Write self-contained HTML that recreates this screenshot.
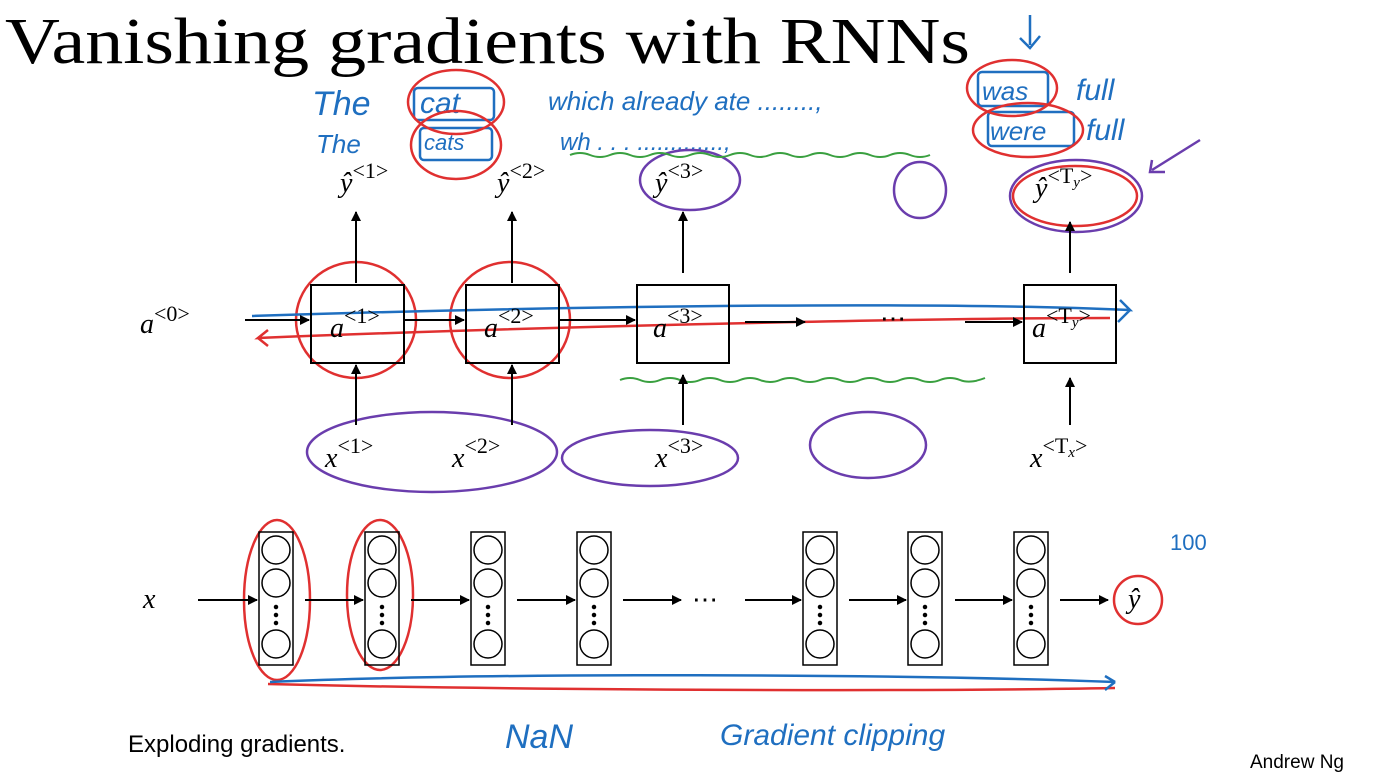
<!DOCTYPE html>
<html><head><meta charset="utf-8"><style>
html,body{margin:0;padding:0;background:#fff;width:1387px;height:779px;overflow:hidden}
svg{display:block}
.m{font-family:"Liberation Serif",serif;font-style:italic;font-size:28px;fill:#000}
.s{font-family:"Liberation Serif",serif;font-style:normal;font-size:22px}
.hw{font-family:"Liberation Sans",sans-serif;font-style:italic;fill:#1f6fc0;font-size:30px}
</style></head><body>
<svg width="1387" height="779" viewBox="0 0 1387 779">
<defs><marker id="ar" markerWidth="10" markerHeight="10" refX="9" refY="5" orient="auto" markerUnits="userSpaceOnUse"><path d="M0,0 L10,5 L0,10z" fill="#000"/></marker></defs>
<text x="5" y="63" font-family="Liberation Serif,serif" font-size="66" textLength="965" lengthAdjust="spacingAndGlyphs">Vanishing gradients with RNNs</text>

<!-- handwriting -->
<g class="hw">
<text x="312" y="115" font-size="34">The</text>
<text x="420" y="113">cat</text>
<text x="548" y="110" font-size="26">which already ate ........,</text>
<text x="316" y="153" font-size="26">The</text>
<text x="424" y="150" font-size="22">cats</text>
<text x="560" y="150" font-size="24">wh      .  .  .     .............,</text>
<text x="982" y="100" font-size="26">was</text>
<text x="1076" y="100" font-size="30">full</text>
<text x="990" y="140" font-size="26">were</text>
<text x="1086" y="140" font-size="30">full</text>
<text x="1170" y="550" font-size="22" font-style="normal">100</text>
<text x="505" y="748" font-size="34">NaN</text>
<text x="720" y="745" font-size="30">Gradient clipping</text>
</g>
<g fill="none" stroke="#1f6fc0" stroke-width="2.5">
<path d="M1030,15 L1030,45 M1020,38 L1030,48 L1040,36"/>
<rect x="414" y="88" width="80" height="32" rx="4"/>
<rect x="420" y="128" width="72" height="32" rx="4"/>
<rect x="978" y="72" width="70" height="34" rx="4"/>
<rect x="988" y="112" width="86" height="34" rx="4"/>
</g>
<g fill="none" stroke="#e03030" stroke-width="2.5">
<ellipse cx="456" cy="102" rx="48" ry="32"/>
<ellipse cx="456" cy="145" rx="45" ry="34"/>
<ellipse cx="1012" cy="88" rx="45" ry="28"/>
<ellipse cx="1028" cy="130" rx="55" ry="27"/>
<ellipse cx="1075" cy="196" rx="62" ry="30"/>
<ellipse cx="356" cy="320" rx="60" ry="58"/>
<ellipse cx="510" cy="320" rx="60" ry="58"/>
<ellipse cx="277" cy="600" rx="33" ry="80"/>
<ellipse cx="380" cy="595" rx="33" ry="75"/>
<ellipse cx="1138" cy="600" rx="24" ry="24"/>
<path d="M1110,318 C900,318 500,328 258,338 L268,330 M258,338 L268,346"/>
<path d="M1115,688 C900,692 500,690 268,684"/>
</g>
<g fill="none" stroke="#1f6fc0" stroke-width="2.5">
<path d="M252,316 C500,308 900,300 1130,310 L1120,300 M1130,310 L1118,322"/>
<path d="M270,682 C500,672 900,674 1115,682 L1105,676 M1115,682 L1105,690"/>
</g>
<g fill="none" stroke="#6a3dad" stroke-width="2.5">
<ellipse cx="690" cy="180" rx="50" ry="30"/>
<ellipse cx="920" cy="190" rx="26" ry="28"/>
<ellipse cx="1076" cy="196" rx="66" ry="36"/>
<path d="M1200,140 L1152,170 M1152,160 L1150,172 L1165,172"/>
<ellipse cx="432" cy="452" rx="125" ry="40"/>
<ellipse cx="650" cy="458" rx="88" ry="28"/>
<ellipse cx="868" cy="445" rx="58" ry="33"/>
</g>
<g fill="none" stroke="#3aa040" stroke-width="2">
<path d="M570,155 q10,-4 20,0 t20,0 t20,0 t20,0 t20,0 t20,0 t20,0 t20,0 t20,0 t20,0 t20,0 t20,0 t20,0 t20,0 t20,0 t20,0 t20,0 t20,0"/>
<path d="M620,380 q10,-4 20,0 t20,0 t20,0 t20,0 t20,0 t20,0 t20,0 t20,0 t20,0 t20,0 t20,0 t20,0 t20,0 t20,0 t20,0 t20,0 t20,0 t25,-2"/>
</g>

<!-- RNN -->
<g fill="none" stroke="#000" stroke-width="2">
<rect x="311" y="285" width="93" height="78"/>
<rect x="466" y="285" width="93" height="78"/>
<rect x="637" y="285" width="92" height="78"/>
<rect x="1024" y="285" width="92" height="78"/>
</g>
<g stroke="#000" stroke-width="2" marker-end="url(#ar)">
<line x1="245" y1="320" x2="309" y2="320"/>
<line x1="404" y1="320" x2="464" y2="320"/>
<line x1="559" y1="320" x2="635" y2="320"/>
<line x1="745" y1="322" x2="805" y2="322"/>
<line x1="965" y1="322" x2="1022" y2="322"/>
<line x1="356" y1="283" x2="356" y2="212"/>
<line x1="512" y1="283" x2="512" y2="212"/>
<line x1="683" y1="273" x2="683" y2="212"/>
<line x1="1070" y1="273" x2="1070" y2="222"/>
<line x1="356" y1="425" x2="356" y2="365"/>
<line x1="512" y1="425" x2="512" y2="365"/>
<line x1="683" y1="425" x2="683" y2="375"/>
<line x1="1070" y1="425" x2="1070" y2="378"/>
</g>
<text class="m" x="140" y="333">a<tspan class="s" dy="-12">&lt;0&gt;</tspan></text>
<text class="m" x="330" y="337">a<tspan class="s" dy="-14">&lt;1&gt;</tspan></text>
<text class="m" x="484" y="337">a<tspan class="s" dy="-14">&lt;2&gt;</tspan></text>
<text class="m" x="653" y="337">a<tspan class="s" dy="-14">&lt;3&gt;</tspan></text>
<text class="m" x="1032" y="337">a<tspan class="s" dy="-14">&lt;T<tspan font-style="italic" font-size="15" dy="4">y</tspan><tspan dy="-4">&gt;</tspan></tspan></text>
<text x="880" y="327" font-size="26" font-family="Liberation Serif,serif">⋯</text>
<text class="m" x="340" y="192">ŷ<tspan class="s" dy="-14">&lt;1&gt;</tspan></text>
<text class="m" x="497" y="192">ŷ<tspan class="s" dy="-14">&lt;2&gt;</tspan></text>
<text class="m" x="655" y="192">ŷ<tspan class="s" dy="-14">&lt;3&gt;</tspan></text>
<text class="m" x="1035" y="197">ŷ<tspan class="s" dy="-14">&lt;T<tspan font-style="italic" font-size="15" dy="4">y</tspan><tspan dy="-4">&gt;</tspan></tspan></text>
<text class="m" x="325" y="467">x<tspan class="s" dy="-14">&lt;1&gt;</tspan></text>
<text class="m" x="452" y="467">x<tspan class="s" dy="-14">&lt;2&gt;</tspan></text>
<text class="m" x="655" y="467">x<tspan class="s" dy="-14">&lt;3&gt;</tspan></text>
<text class="m" x="1030" y="467">x<tspan class="s" dy="-14">&lt;T<tspan font-style="italic" font-size="15" dy="4">x</tspan><tspan dy="-4">&gt;</tspan></tspan></text>

<!-- deep net -->
<g id="col" fill="none" stroke="#000" stroke-width="1.5">
<rect x="259" y="532" width="34" height="133"/>
<circle cx="276" cy="550" r="14"/><circle cx="276" cy="583" r="14"/><circle cx="276" cy="644" r="14"/>
<circle cx="276" cy="607" r="1.5" fill="#000"/><circle cx="276" cy="615" r="1.5" fill="#000"/><circle cx="276" cy="623" r="1.5" fill="#000"/>
</g>
<use href="#col" x="106"/><use href="#col" x="212"/><use href="#col" x="318"/>
<use href="#col" x="544"/><use href="#col" x="649"/><use href="#col" x="755"/>
<g stroke="#000" stroke-width="2" marker-end="url(#ar)">
<line x1="198" y1="600" x2="257" y2="600"/>
<line x1="305" y1="600" x2="363" y2="600"/>
<line x1="411" y1="600" x2="469" y2="600"/>
<line x1="517" y1="600" x2="575" y2="600"/>
<line x1="623" y1="600" x2="681" y2="600"/>
<line x1="745" y1="600" x2="801" y2="600"/>
<line x1="849" y1="600" x2="906" y2="600"/>
<line x1="955" y1="600" x2="1012" y2="600"/>
<line x1="1060" y1="600" x2="1108" y2="600"/>
</g>
<text x="692" y="608" font-size="26" font-family="Liberation Serif,serif">⋯</text>
<text class="m" x="143" y="608">x</text>
<text class="m" x="1128" y="608">ŷ</text>
<text x="128" y="752" font-family="Liberation Sans,sans-serif" font-size="24">Exploding gradients.</text>
<text x="1250" y="768" font-family="Liberation Sans,sans-serif" font-size="19">Andrew Ng</text>
</svg>
</body></html>
